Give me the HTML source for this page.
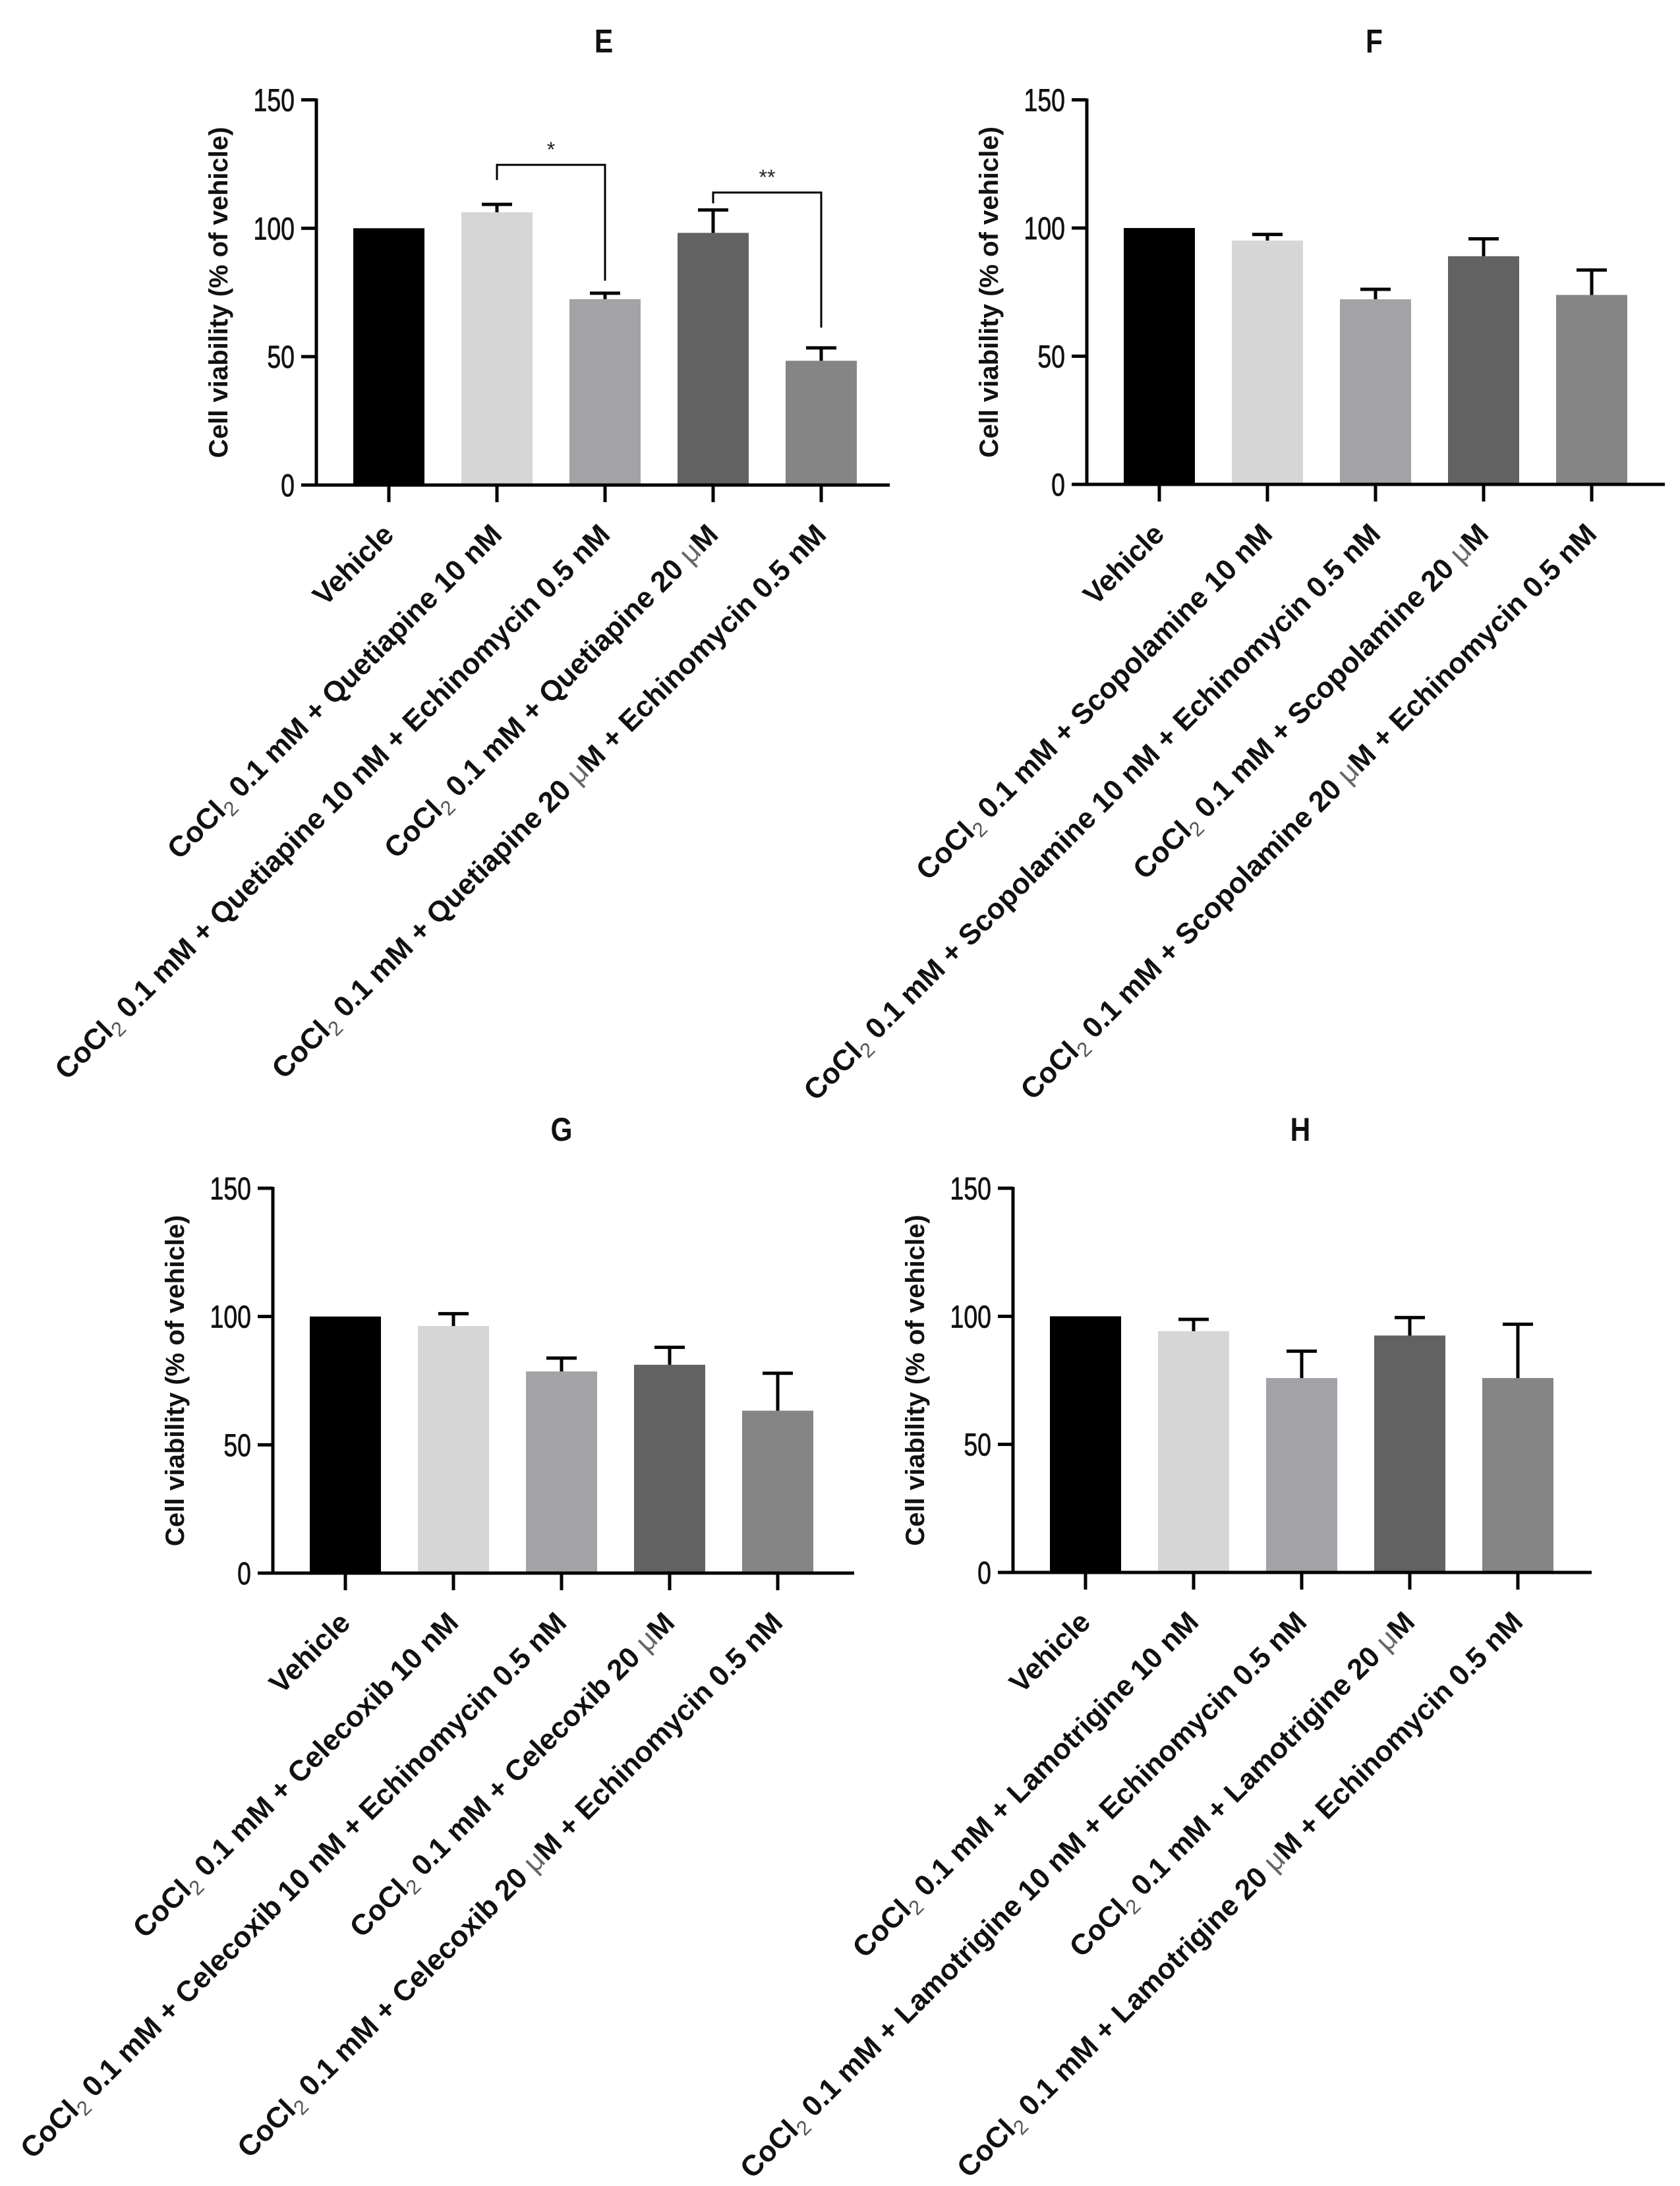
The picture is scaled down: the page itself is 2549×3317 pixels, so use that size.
<!DOCTYPE html>
<html><head><meta charset="utf-8">
<style>
html,body{margin:0;padding:0;background:#fff;}
svg{display:block;}
text{font-family:"Liberation Sans",Arial,sans-serif;}
</style></head>
<body>
<svg id="fig" width="2549" height="3317" viewBox="0 0 2549 3317" xmlns="http://www.w3.org/2000/svg"></svg>
<script>
// ---- data ----
const ticks = [0, 50, 100, 150];
const colors = ["#000000", "#d6d6d6", "#a3a2a6", "#626262", "#858585"];
const drugsE = "Quetiapine", drugsF = "Scopolamine", drugsG = "Celecoxib", drugsH = "Lamotrigine";
const valuesE = [100, 106.2, 72.4, 98.2, 48.4];
const errorsE = [0, 3.1, 2.3, 8.9, 5.0];
const valuesF = [100, 95.1, 72.2, 89.0, 73.9];
const errorsF = [0, 2.4, 3.9, 6.8, 9.7];
const valuesG = [100, 96.3, 78.6, 81.2, 63.3];
const errorsG = [0, 4.8, 5.2, 6.8, 14.6];
const valuesH = [100, 94.2, 75.9, 92.5, 75.9];
const errorsH = [0, 4.6, 10.5, 7.0, 21.0];
// significance brackets for panel E: [bracketLevel, leftLegEnd, rightLegEnd, label]
const bracketsE = [[124.7, 118.8, 79.6, "*"], [113.9, 109.7, 61.3, "**"]];
const bracketPairs = [[1, 2], [3, 4]];

const NS = "http://www.w3.org/2000/svg";
const svg = document.getElementById("fig");
function mk(tag, attrs, parent, txt) {
  const e = document.createElementNS(NS, tag);
  for (const k in attrs) e.setAttribute(k, attrs[k]);
  if (txt !== undefined) e.textContent = txt;
  (parent || svg).appendChild(e);
  return e;
}

function makeLabels(drug) {
  return [
    [["Vehicle"]],
    [["CoCl"], ["2", "sub"], [" 0.1 mM + " + drug + " 10 nM"]],
    [["CoCl"], ["2", "sub"], [" 0.1 mM + " + drug + " 10 nM + Echinomycin 0.5 nM"]],
    [["CoCl"], ["2", "sub"], [" 0.1 mM + " + drug + " 20 "], ["\u03bc", "mu"], ["M"]],
    [["CoCl"], ["2", "sub"], [" 0.1 mM + " + drug + " 20 "], ["\u03bc", "mu"], ["M + Echinomycin 0.5 nM"]]
  ];
}

function panel(id, title, ax, y0, y150, vals, errs, drug, axisEnd, titleX) {
  const g = mk("g", {}, svg);
  
  
  const yS = v => y0 - (v / 150) * (y0 - y150);
  const xS = i => ax + 110 + i * 164;
  const bw = 108;
  const t = mk("text", {x: titleX, y: y150 - 72, "font-size": 50, "font-weight": "bold", "text-anchor": "middle", fill: "#111", transform: `translate(${titleX},0) scale(0.85,1) translate(${-titleX},0)`}, g, title);
  
  
  vals.forEach((v, i) => {
    const r = mk("rect", {x: xS(i) - bw / 2, y: yS(v), width: bw, height: y0 - yS(v), fill: colors[i]}, g);
    
    
    if (errs[i] > 0) {
      const top = yS(v + errs[i]);
      const eb = mk("path", {d: `M${xS(i)},${yS(v)} V${top} M${xS(i) - 23},${top} H${xS(i) + 23}`, stroke: "#000", "stroke-width": 5, fill: "none"}, g);
      
      
    }
  });
  const yAxis = mk("line", {x1: ax, y1: y150 - 2, x2: ax, y2: y0 + 2, stroke: "#000", "stroke-width": 5}, g);
  
  
  const xAxis = mk("line", {x1: ax - 23, y1: y0, x2: axisEnd, y2: y0, stroke: "#000", "stroke-width": 5}, g);
  
  
  ticks.forEach(tv => {
    const y = yS(tv);
    const tk = mk("line", {x1: ax - 23, y1: y, x2: ax, y2: y, stroke: "#000", "stroke-width": 5}, g);
    
    
    const lx = ax - 33;
    const tl = mk("text", {x: lx, y: y + 17, "font-size": 48, "text-anchor": "end", fill: "#111", stroke: "#111", "stroke-width": 0.8, transform: `translate(${lx},0) scale(0.78,1) translate(${-lx},0)`}, g, String(tv));
    
    
  });
  const cy = (y0 + y150) / 2;
  const yt = mk("text", {x: ax - 148, y: cy, "font-size": 40, "font-weight": "bold", "text-anchor": "middle", "dominant-baseline": "central", fill: "#111", transform: `rotate(-90 ${ax - 148} ${cy})`}, g, "Cell viability (%  of vehicle)");
  
  
  const labels = makeLabels(drug);
  labels.forEach((parts, i) => {
    const x = xS(i);
    const xt = mk("line", {x1: x, y1: y0, x2: x, y2: y0 + 26, stroke: "#000", "stroke-width": 5}, g);
    
    
    const ax0 = x + 10, ay0 = y0 + 78;
    const tx = mk("text", {x: ax0, y: ay0, "font-size": 44, "font-weight": "bold", "text-anchor": "end", fill: "#111", transform: `rotate(-45 ${ax0} ${ay0})`}, g);
    
    
    let shifted = false;
    parts.forEach(p => {
      const attrs = {};
      if (p[1] === "sub") { attrs["font-size"] = 31; attrs["font-weight"] = "normal"; attrs.fill = "#555"; attrs.dy = 10; shifted = true; }
      else if (shifted) { attrs.dy = -10; shifted = false; }
      if (p[1] === "mu") { attrs["font-weight"] = "normal"; attrs.fill = "#666"; }
      mk("tspan", attrs, tx, p[0]);
    });
  });
  return {g, xS, yS};
}

const pE = panel("E", "E", 480, 736, 151.5, valuesE, errorsE, drugsE, 1350, 916);
panel("F", "F", 1649, 735, 151.5, valuesF, errorsF, drugsF, 2526, 2085);
panel("G", "G", 414, 2387, 1803, valuesG, errorsG, drugsG, 1296, 852);
panel("H", "H", 1537, 2386, 1803, valuesH, errorsH, drugsH, 2415, 1973);

bracketsE.forEach((b, k) => {
  const [i, j] = bracketPairs[k];
  const xa = pE.xS(i), xb = pE.xS(j);
  const yb = pE.yS(b[0]);
  const br = mk("path", {d: `M${xa},${pE.yS(b[1])} V${yb} H${xb} V${pE.yS(b[2])}`, stroke: "#000", "stroke-width": 3, fill: "none"}, pE.g);
  
  
  const st = mk("text", {x: (xa + xb) / 2, y: yb - 12, "font-size": 32, "text-anchor": "middle", fill: "#222"}, pE.g, b[3]);
  
  
});
</script>
</body></html>
